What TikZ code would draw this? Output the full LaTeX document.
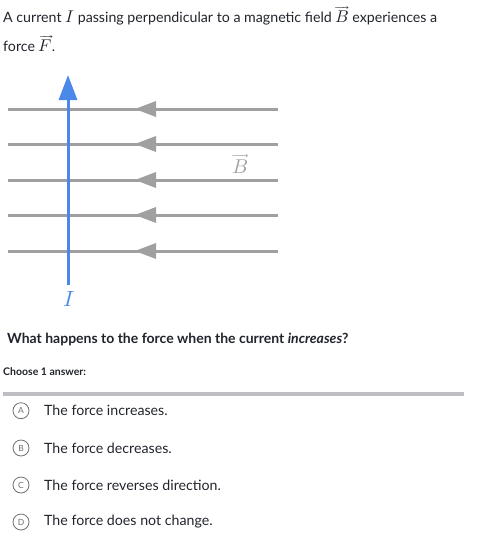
\documentclass[tikz,border=0pt]{standalone}
\usepackage{amsmath}
\usepackage{fontspec}
\usepackage{unicode-math}
\setmainfont{Lato}
\setmathfont{Latin Modern Math}
\usetikzlibrary{arrows.meta}

\definecolor{fieldgray}{RGB}{160,160,160}
\definecolor{currentblue}{RGB}{74,137,232}
\definecolor{bargray}{RGB}{188,190,194}
\definecolor{inkdark}{RGB}{33,36,44}
\definecolor{circgray}{RGB}{110,112,116}

\newcommand{\katexmath}[1]{{\fontsize{17}{17}\selectfont$#1$}}

\tikzset{
  txt/.style = {anchor = base west, inner sep = 0pt, text = inkdark, font = \fontsize{14.2}{17}\selectfont},
  field/.style = {fieldgray, line width = 3pt},
  current/.style = {currentblue, line width = 3pt, -{Triangle[length=25pt, width=18pt]}},
  choice/.style = {circle, draw = circgray, line width = 0.8pt, minimum size = 16pt, inner sep = 0pt,
                   text = circgray, font = \fontsize{8.5}{9}\selectfont}
}

\begin{document}
\begin{tikzpicture}[x=1pt, y=-1pt]
\useasboundingbox (0,0) rectangle (485,547);

% question text
\node[txt] (line1) at (3,22.5) {A current \katexmath{I} passing perpendicular to a magnetic field \katexmath{\overrightarrow{B}} experiences a};
\node[txt] (line2) at (3,51.5) {force \katexmath{\overrightarrow{F}}.};

% field lines
\foreach \y [count=\i] in {109,144,180,215,251} {
  \coordinate (fr\i) at (278,\y);
  \coordinate (fl\i) at (8,\y);
  \draw[field] (fr\i) -- (fl\i);
  \fill[fieldgray] (135,\y) -- (156,\y-8) -- (156,\y+8) -- cycle;
}
\node[fieldgray, font = \fontsize{20}{20}\selectfont] (Blabel) at (240,164) {$\overrightarrow{B}$};

% current
\node[currentblue, inner sep = 1pt, font = \fontsize{22}{22}\selectfont] (Ilabel) at (69,298.5) {$I$};
\coordinate (wiretop) at (68,75);
\draw[current] (68,285) -- (wiretop);

% question
\node[txt, font = \bfseries\fontsize{14}{17}\selectfont] (ask) at (7,343) {What happens to the force when the current \textit{increases}?};
\node[txt, font = \bfseries\fontsize{10.5}{12}\selectfont] (choose) at (3,375) {Choose 1 answer:};
\draw[bargray, line width = 4.3pt] (3,394) -- (464,394);

% answers
\foreach \lab/\ans/\y [count=\i] in {A/The force increases./410.7,
                                     B/The force decreases./448,
                                     C/The force reverses direction./485,
                                     D/The force does not change./522} {
  \node[choice] (opt\i) at (21,\y) {\lab};
  \node[txt, anchor = west] (ans\i) at (44,\y) {\ans};
}
\end{tikzpicture}
\end{document}
